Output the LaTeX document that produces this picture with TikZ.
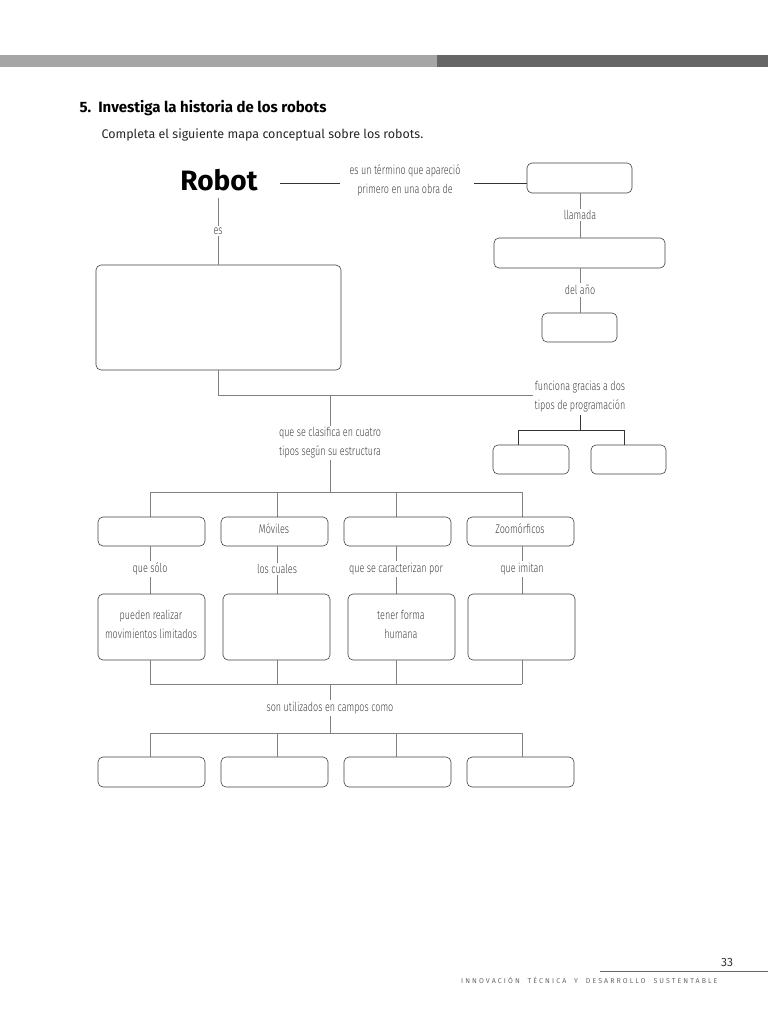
\documentclass[tikz,border=0pt]{standalone}
\usepackage{fontspec}
\setmainfont{Fira Sans Light}[FakeStretch=0.72]
\newfontfamily\titlef{Fira Sans}
\begin{document}
\begin{tikzpicture}[x=1pt,y=-1pt,
  bx/.style={draw=black!75,line width=0.6pt,rounded corners=5pt},
  ln/.style={draw=black!50,line width=0.6pt},
  lab/.style={fill=white,inner sep=1.5pt,text=black!75,font=\fontsize{12.5}{19}\selectfont,align=center},
  bt/.style={text=black!75,font=\fontsize{12.5}{19}\selectfont,align=center}]
\useasboundingbox (0,0) rectangle (768,1024);
\fill[black!35] (0,55) rectangle (437,67);
\fill[black!60] (437,55) rectangle (768,67);
\node[anchor=west,font=\titlef\bfseries\fontsize{15}{17}\selectfont] (t) at (76,108) {5.\ \ Investiga la historia de los robots};
\node[anchor=west,font=\titlef\fontsize{12.5}{14}\selectfont,text=black!85] (st) at (98,135) {Completa el siguiente mapa conceptual sobre los robots.};
% Top
\node[font=\titlef\bfseries\fontsize{28}{30}\selectfont] (robot) at (219,180) {Robot};
\node[lab] (l1) at (405,180) {es un término que apareció\\primero en una obra de};
\draw[bx] (527,163) rectangle (632,193);
\coordinate (b1w) at (527,183); \coordinate (b1s) at (580,193);
\draw[ln,black!80] (280,183) -- (340,183);
\draw[ln,black!80] (474,183) -- (b1w);
\node[lab] (ll) at (580,215) {llamada};
\draw[bx] (494,238) rectangle (665,268);
\draw[ln] (b1s) -- (ll) -- (580,238);
\node[lab] (ld) at (580,290) {del año};
\draw[bx] (542,313) rectangle (617,342);
\draw[ln] (580,268) -- (ld) -- (580,313);
\node[lab] (les) at (218,231) {es};
\draw[bx] (96,265) rectangle (341,370);
\draw[ln] (218,198) -- (les) -- (218,265);
% middle
\node[lab] (lf) at (580,397) {funciona gracias a dos\\tipos de programación};
\draw[ln] (218,370) -- (218,395) -- (lf.west |- 0,395);
\draw[ln,black!80] (580,415) -- (580,430);
\draw[ln,black!80] (518,445) -- (518,430) -- (624,430) -- (624,445);
\draw[bx] (493,445) rectangle (569,474);
\draw[bx] (591,445) rectangle (666,474);
\node[lab] (lc) at (330,443) {que se clasifica en cuatro\\tipos según su estructura};
\draw[ln] (330,395) -- (lc) -- (330,492);
\draw[ln] (150,517) -- (150,492) -- (522,492) -- (522,517);
\draw[ln] (277,492) -- (277,517);
\draw[ln] (396,492) -- (396,517);
% rows
\foreach \x/\t in {151/{},274/Móviles,397/{},520/Zoomórficos}{
  \draw[bx] (\x-53,517) rectangle (\x+54,546);
  \node[bt] at (\x,529) {\t};
  \draw[bx] (\x-53,757) rectangle (\x+54,787);
}
\foreach \x/\c/\t/\u in {150/151/que sólo/{pueden realizar\\movimientos limitados},277/276/los cuales/{},396/401/que se caracterizan por/{tener forma\\humana},522/521/que imitan/{}}{
  \node[lab] (q\x) at (\x,569) {\t};
  \draw[ln] (\x,546) -- (q\x) -- (\x,594);
  \draw[bx] (\c-53,594) rectangle (\c+54,660);
  \node[bt] at (\c,624) {\u};
  \draw[ln] (\x,660) -- (\x,684);
  \draw[ln] (\x,733) -- (\x,757);
}
\draw[ln] (150,684) -- (522,684);
\draw[ln] (150,733) -- (522,733);
\node[lab] (lu) at (330,708) {son utilizados en campos como};
\draw[ln] (330,684) -- (lu) -- (330,733);
% footer
\node[font=\titlef\fontsize{12}{13}\selectfont,text=black!80] (pn) at (727,962) {33};
\draw[black!60,line width=0.6pt] (600,971) -- (768,971);
\node[anchor=east,font=\titlef\fontsize{7}{8}\selectfont,text=black!60] (ft) at (721,980) {\addfontfeature{LetterSpace=30}INNOVACIÓN\ \ TÉCNICA\ \ Y\ \ DESARROLLO\ \ SUSTENTABLE};
\end{tikzpicture}
\end{document}
